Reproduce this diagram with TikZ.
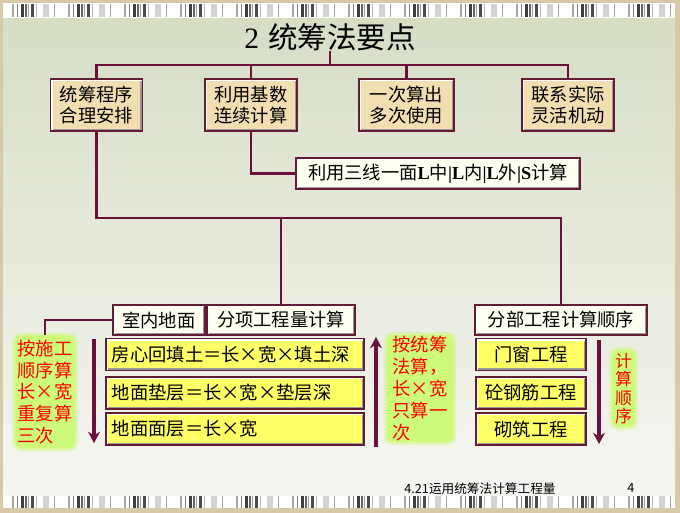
\documentclass[tikz,border=0pt]{standalone}
\usepackage{fontspec}
\newfontfamily\cjk{Noto Sans CJK SC}
\newfontfamily\lat{Liberation Serif}
\usetikzlibrary{arrows.meta}
\definecolor{linered}{RGB}{107,16,56}
\definecolor{boxedge}{RGB}{100,28,52}
\definecolor{tanfill}{RGB}{243,222,178}
\definecolor{ivory}{RGB}{255,255,242}
\definecolor{boxyellow}{RGB}{255,255,102}
\definecolor{glowgreen}{RGB}{205,250,120}
\definecolor{beige}{RGB}{217,201,168}
\definecolor{paneltop}{RGB}{214,222,198}
\definecolor{panelbot}{RGB}{246,246,242}

\begin{document}
\begin{tikzpicture}[x=0.025cm, y=-0.025cm,
    every node/.style={font=\cjk},
    bevel/.style={path picture={
        \draw[line width=3pt, black!40]
            (path picture bounding box.south west) -- (path picture bounding box.south east)
            -- (path picture bounding box.north east);
        \draw[line width=3pt, white!70]
            (path picture bounding box.south west) -- (path picture bounding box.north west)
            -- (path picture bounding box.north east);}},
    box/.style={draw=boxedge, line width=1.2pt, inner sep=2pt, bevel, font=\cjk\fontsize{13pt}{15.5pt}\selectfont},
    topbox/.style={box, fill=tanfill, minimum width=2.3cm, minimum height=1.3cm, align=center},
    whitebox/.style={box, fill=ivory, minimum height=0.75cm},
    yellowbox/.style={box, fill=boxyellow, minimum height=0.8cm},
    glow/.style={fill=glowgreen, rounded corners=4pt, text=red, inner sep=0pt, align=left,
        preaction={draw=glowgreen, line width=4pt, draw opacity=0.45},
        font=\cjk\fontsize{13pt}{15.5pt}\selectfont},
    link/.style={draw=linered, line width=2pt},
    flow/.style={draw=linered, line width=2.2pt, -{Stealth[length=8pt, width=8.5pt]}}]
    \useasboundingbox (0,0) rectangle (680,513);

    % Background
    \fill[beige] (0,0) rectangle (680,513);
    \fill[white] (3,3) rectangle (675,18);
    \fill[white] (3,495) rectangle (675,508);
    \shade[top color=paneltop, bottom color=panelbot] (3,18) rectangle (675,495);
    \foreach \g in {0,...,11} {
        \foreach \o/\w/\c in {0/2/gray!70, 5/1/gray, 9/3/black!75, 13/2/black!60, 16/1/gray!80,
                              19/3/black!70, 24/1/gray!60, 31/6/gray!35, 42/1/gray!70} {
            \fill[\c] ({12+\g*56+\o},4) rectangle ++(\w,13);
            \fill[\c] ({12+\g*56+\o},496) rectangle ++(\w,12);
        }
    }

    % Nodes
    \node[inner sep=0pt, font=\fontsize{21pt}{24pt}\selectfont] (title) at (330,37) {{\lat 2} {\cjk 统筹法要点}};

    \node[topbox] (P1) at (96.5,105) {统筹程序\\合理安排};
    \node[topbox] (P2) at (251,105) {利用基数\\连续计算};
    \node[topbox, minimum width=2.375cm] (P3) at (406.5,105) {一次算出\\多次使用};
    \node[topbox] (P4) at (568,105) {联系实际\\灵活机动};

    \node[whitebox, minimum width=7.1cm, minimum height=0.775cm] (SX) at (438,173.5)
        {利用三线一面{\lat\bfseries L}中{\lat\bfseries |L}内{\lat\bfseries |L}外{\lat\bfseries |S}计算};

    \node[whitebox, minimum width=2.3cm] (SN) at (159,320) {室内地面};
    \node[whitebox, minimum width=3.7cm] (FX) at (281,320) {分项工程量计算};
    \node[whitebox, minimum width=4.3cm] (FB) at (561,320) {分部工程计算顺序};

    \node[yellowbox, inner xsep=0.15cm, text width=6.15cm, align=left] (Y1) at (235,354.5) {房心回填土＝长×宽×填土深};
    \node[yellowbox, inner xsep=0.15cm, text width=6.15cm, align=left] (Y2) at (235,393) {地面垫层＝长×宽×垫层深};
    \node[yellowbox, inner xsep=0.15cm, text width=6.15cm, align=left] (Y3) at (235,429) {地面面层＝长×宽};

    \node[yellowbox, minimum width=2.75cm] (Z1) at (531,354.5) {门窗工程};
    \node[yellowbox, minimum width=2.75cm] (Z2) at (531,393) {砼钢筋工程};
    \node[yellowbox, minimum width=2.75cm] (Z3) at (531,429) {砌筑工程};

    \node[glow, minimum width=1.5cm, minimum height=2.825cm] (G1) at (45,392) {按施工\\顺序算\\长×宽\\重复算\\三次};
    \node[glow, minimum width=1.675cm, minimum height=2.675cm] (G2) at (420,388.5) {按统筹\\法算，\\长×宽\\只算一\\次};
    \node[glow, minimum width=0.575cm, minimum height=1.925cm, align=center,
        font=\cjk\fontsize{12pt}{13.2pt}\selectfont] (G3) at (623.5,388.5) {计\\算\\顺\\序};

    \node[font=\cjk\fontsize{9pt}{10pt}\selectfont] (foot) at (480,489) {4.21运用统筹法计算工程量};
    \node[font=\cjk\fontsize{9pt}{10pt}\selectfont] (page) at (631,488) {4};

    % Lines
    \coordinate (topbus) at (330,65);
    \coordinate (midbus) at (281,218);
    \draw[link] (title.south) -- (topbus);
    \draw[link] (P1.north) |- (topbus) -| (P4.north);
    \draw[link] (P2.north) -- (P2.north |- topbus);
    \draw[link] (P3.north) -- (P3.north |- topbus);
    \draw[link] (P2.south) |- (SX.west);
    \draw[link] (P1.south) |- (midbus) -| (FB.north);
    \draw[link] (FX.north) -- (midbus);
    \draw[link] (SN.west) -| (G1.north);

    % Arrows
    \coordinate (A1) at (94,339);
    \coordinate (B1) at (94,443);
    \coordinate (A2) at (376,447);
    \coordinate (B2) at (376,337);
    \coordinate (A3) at (599,340);
    \coordinate (B3) at (599,444);
    \draw[flow] (A1) -- (B1);
    \draw[flow] (A2) -- (B2);
    \draw[flow] (A3) -- (B3);

\end{tikzpicture}
\end{document}
